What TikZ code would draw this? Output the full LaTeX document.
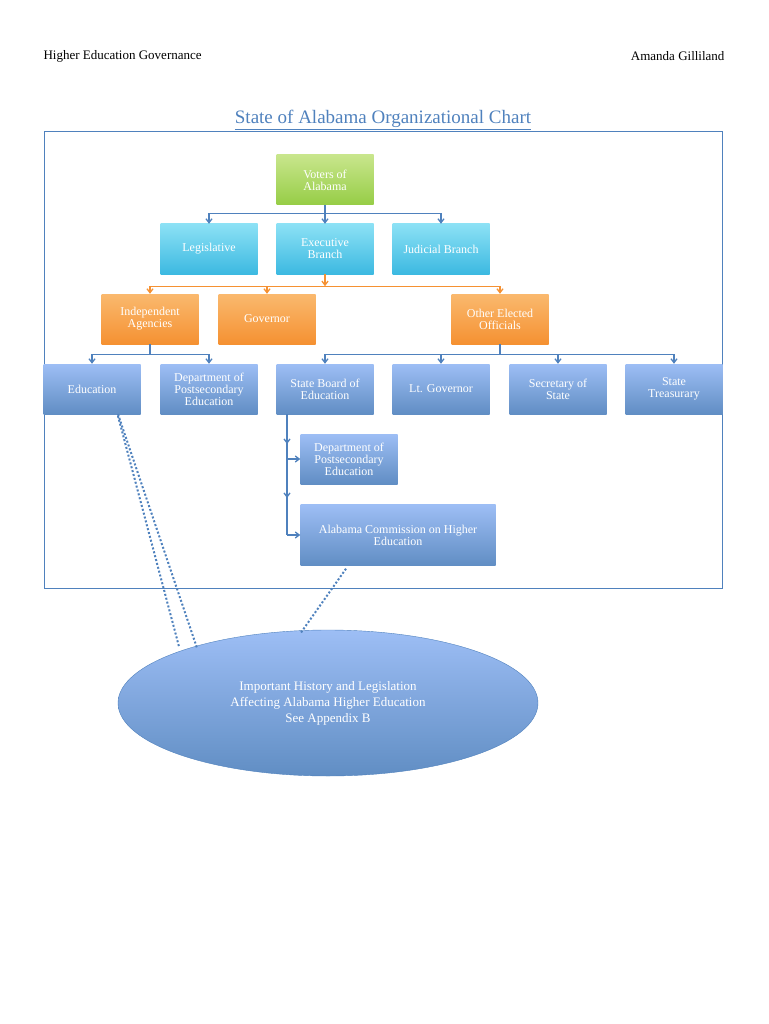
\documentclass[tikz,border=0pt]{standalone}
\usepackage{fontspec}
\setmainfont{Liberation Serif}
\usetikzlibrary{positioning,arrows.meta,shapes.geometric}
\definecolor{boxblue}{RGB}{79,129,189}
\definecolor{lightblue}{RGB}{157,190,245}
\definecolor{cyantop}{RGB}{140,225,245}
\definecolor{cyanbot}{RGB}{60,185,225}
\definecolor{greentop}{RGB}{200,230,140}
\definecolor{greenbot}{RGB}{150,205,70}
\definecolor{orangetop}{RGB}{250,185,110}
\definecolor{orangebot}{RGB}{245,145,50}
\definecolor{linkblue}{RGB}{54,95,145}
\tikzset{
  box/.style={rectangle, minimum width=97pt, minimum height=50pt, align=center,
    text=white, font=\fontsize{12}{12}\selectfont, inner sep=1pt},
  bluebox/.style={box, top color=lightblue, bottom color=boxblue!90},
  cyanbox/.style={box, top color=cyantop, bottom color=cyanbot},
  greenbox/.style={box, top color=greentop, bottom color=greenbot},
  orangebox/.style={box, top color=orangetop, bottom color=orangebot},
  bus/.style={boxblue, line width=1.3pt, -{Straight Barb[length=4pt,width=6pt]}},
  orangebus/.style={bus, orangebot},
  plain/.style={boxblue, line width=1.3pt},
  dots/.style={boxblue, line width=2pt, dotted}
}
\begin{document}
\begin{tikzpicture}[x=1pt,y=-1pt]
  \useasboundingbox (0,0) rectangle (768,1024);
  % header
  \node[anchor=west, font=\fontsize{13}{13}\selectfont] (hleft) at (40,56) {Higher Education Governance};
  \node[anchor=east, font=\fontsize{13}{13}\selectfont] (hright) at (728,56) {Amanda Gilliland};
  \node[text=boxblue, font=\fontsize{19}{19}\selectfont] (title) at (383,120) {\underline{State of Alabama Organizational Chart}};
  \draw[boxblue] (44,131) rectangle (722,588);

  % nodes
  \node[greenbox] (voters) at (325,180) {Voters of\\Alabama};
  \node[cyanbox] (leg) at (209,249) {Legislative};
  \node[cyanbox] (exec) at (325,249) {Executive\\Branch};
  \node[cyanbox] (jud) at (441,249) {Judicial Branch};
  \node[orangebox] (indep) at (150,319) {Independent\\Agencies};
  \node[orangebox] (gov) at (267,319) {Governor};
  \node[orangebox] (other) at (500,319) {Other Elected\\Officials};
  \node[bluebox] (edu) at (92,389) {Education};
  \node[bluebox] (dept) at (209,389) {Department of\\Postsecondary\\Education};
  \node[bluebox] (sbe) at (325,389) {State Board of\\Education};
  \node[bluebox] (ltgov) at (441,389) {Lt. Governor};
  \node[bluebox] (sec) at (558,389) {Secretary of\\State};
  \node[bluebox] (treas) at (674,389) {State\\Treasurary};
  \node[bluebox] (dept2) at (349,459) {Department of\\Postsecondary\\Education};
  \node[bluebox, minimum width=195pt, minimum height=61pt] (ache) at (398,535) {Alabama Commission on Higher\\Education};
  \node[ellipse, minimum width=420pt, minimum height=146pt, top color=lightblue,
    bottom color=boxblue!90, draw=boxblue, text=white, align=center,
    font=\fontsize{13}{16}\selectfont] (hist) at (328,703)
    {Important History and Legislation\\Affecting Alabama Higher Education\\See Appendix B};

  % connectors
  \draw[plain] (voters.south) -- ++(0,8) coordinate (vbus);
  \draw[plain] (leg.north |- vbus) -- (jud.north |- vbus);
  \foreach \n in {leg,exec,jud} \draw[bus] (\n.north |- vbus) -- (\n.north);
  \draw[orangebus] (exec.south) -- ++(0,12) coordinate (obus);
  \draw[orangebot, line width=1.3pt] (indep.north |- obus) -- (other.north |- obus);
  \foreach \n in {indep,gov,other} \draw[orangebus] (\n.north |- obus) -- (\n.north);
  \draw[plain] (indep.south) -- ++(0,10) coordinate (ibus);
  \draw[plain] (edu.north |- ibus) -- (dept.north |- ibus);
  \foreach \n in {edu,dept} \draw[bus] (\n.north |- ibus) -- (\n.north);
  \draw[plain] (other.south) -- ++(0,10) coordinate (ebus);
  \draw[plain] (sbe.north |- ebus) -- (treas.north |- ebus);
  \foreach \n in {sbe,ltgov,sec,treas} \draw[bus] (\n.north |- ebus) -- (\n.north);
  \coordinate (spine) at (287,0);
  \draw[plain] (spine |- sbe.south) -- (spine |- ache.west);
  \draw[bus] (spine |- sbe.south) -- (spine |- 0,444);
  \draw[bus] (spine |- 0,470) -- (spine |- 0,498);
  \draw[bus] (spine |- dept2.west) -- (dept2.west);
  \draw[bus] (spine |- ache.west) -- (ache.west);
  \draw[dots] (118,416) -- (hist.north west |- 0,648) coordinate (d1);
  \draw[dots] (edu.south) ++(26,0) -- (197,648);
  \draw[dots] (ache.south) ++(-52,3) -- (300,634);
\end{tikzpicture}
\end{document}
